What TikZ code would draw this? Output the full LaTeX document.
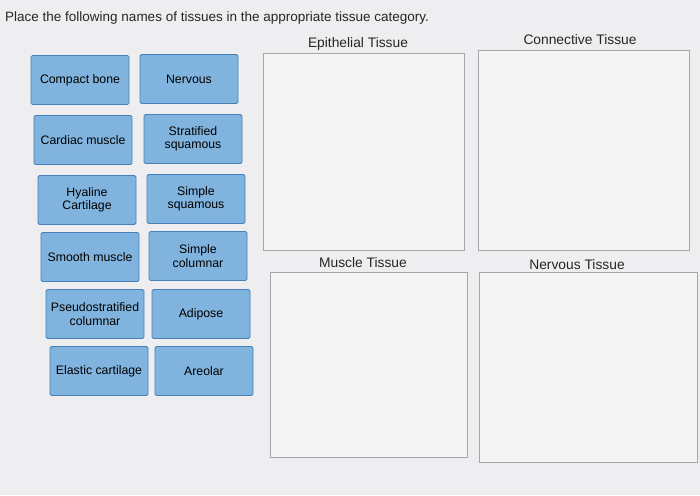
\documentclass[tikz,border=0pt]{standalone}
\usepackage{fontspec}
\setmainfont{Liberation Sans}
\definecolor{tilefill}{RGB}{128,180,222}
\definecolor{tiledraw}{RGB}{70,130,185}
\definecolor{bg}{RGB}{238,238,240}
\definecolor{boxfill}{RGB}{244,244,245}
\definecolor{boxdraw}{RGB}{165,165,170}
\tikzset{
 tile/.style={draw=tiledraw,fill=tilefill,line width=0.8pt,rounded corners=1.5pt,minimum width=98pt,minimum height=49pt,align=center,font=\fontsize{12.3}{13.5}\selectfont,inner sep=1pt},
 drop/.style={draw=boxdraw,fill=boxfill,line width=0.8pt},
 lbl/.style={font=\fontsize{13.8}{15}\selectfont,text=black!85}
}
\begin{document}
\begin{tikzpicture}[x=1pt,y=-1pt]
\useasboundingbox (0,0) rectangle (700,495);
\fill[bg] (0,0) rectangle (700,495);
\node[font=\fontsize{13.5}{15}\selectfont,text=black!85,anchor=west,inner sep=0pt] (title) at (5,18) {Place the following names of tissues in the appropriate tissue category.};
\node[tile] (t1) at (80,80) {Compact bone};
\node[tile] (t2) at (83,140) {Cardiac muscle};
\node[tile] (t3) at (87,200) {Hyaline\\Cartilage};
\node[tile] (t4) at (90,257) {Smooth muscle};
\node[tile] (t5) at (95,314) {Pseudostratified\\columnar};
\node[tile] (t6) at (99,371) {Elastic cartilage};
\node[tile] (u1) at (189,79) {Nervous};
\node[tile] (u2) at (193,139) {Stratified\\squamous};
\node[tile] (u3) at (196,199) {Simple\\squamous};
\node[tile] (u4) at (198,256) {Simple\\columnar};
\node[tile] (u5) at (201,314) {Adipose};
\node[tile] (u6) at (204,371) {Areolar};
\draw[drop] (263,53) rectangle (464,250);
\draw[drop] (478,50) rectangle (689,250);
\draw[drop] (270,272) rectangle (467,457);
\draw[drop] (479,272) rectangle (697,462);
\node[lbl] (l1) at (358,44) {Epithelial Tissue};
\node[lbl] (l2) at (580,40) {Connective Tissue};
\node[lbl] (l3) at (363,263) {Muscle Tissue};
\node[lbl] (l4) at (577,265) {Nervous Tissue};
\end{tikzpicture}
\end{document}
